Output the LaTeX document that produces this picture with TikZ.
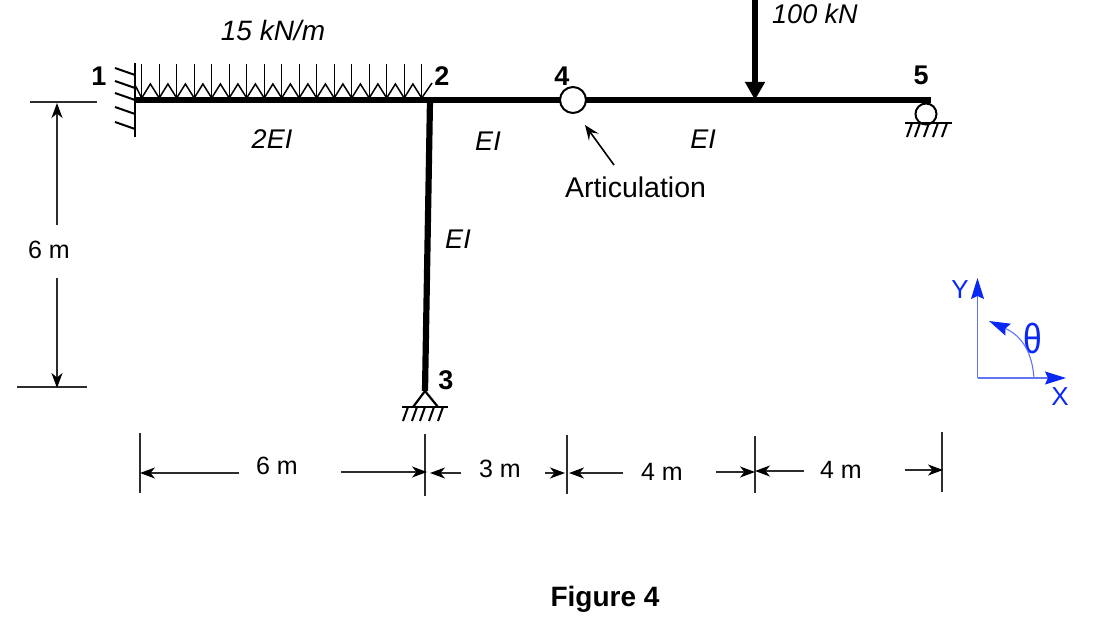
\documentclass[tikz,border=0pt]{standalone}
\usepackage{fontspec}
\setmainfont{Liberation Sans}
\usetikzlibrary{arrows.meta}
\definecolor{axisblue}{RGB}{10,40,245}
\definecolor{dimgrey}{RGB}{45,45,45}
\tikzset{
  member/.style={line width=6.2pt,black},
  hatch/.style={line width=2pt,black},
  dimline/.style={line width=1.3pt,dimgrey},
  dimarrow/.style={line width=1.3pt,dimgrey,-{Stealth[length=15pt,width=11pt,inset=4.5pt,black]}},
  lbl/.style={inner sep=0pt,font=\fontsize{25}{25}\selectfont},
  ital/.style={inner sep=0pt,font=\fontsize{27}{27}\selectfont\itshape},
  num/.style={inner sep=0pt,font=\fontsize{27}{27}\selectfont\bfseries},
  hinge/.style={circle,draw=black,fill=white,line width=2pt,inner sep=0pt},
  blue arrow/.style={line width=1.1pt,axisblue!65,-{Stealth[length=21pt,width=13pt,inset=3pt,axisblue]}},
  blue text/.style={inner sep=0pt,text=axisblue,font=\fontsize{26}{26}\selectfont},
}
\begin{document}
\begin{tikzpicture}[x=1pt,y=-1pt]
\useasboundingbox (0,0) rectangle (1120,628);
% key points
\coordinate (n1) at (135,100);
\coordinate (n2) at (430,100);
\coordinate (n3) at (425,391);
\coordinate (n5) at (931,100);
\coordinate (p) at (755,100);
\coordinate (ptop) at (755,0);
% uniform load
\foreach \i in {0,...,16}{
  \pgfmathsetmacro{\xx}{141.7+17.5*\i}
  \draw[line width=1.3pt] (\xx,64) -- (\xx,103);
}
\draw[line width=1.5pt] (135,85)
  -- (141.7,98)
  \foreach \i in {0,...,15}{ -- ({150.4+17.5*\i},84) -- ({159.2+17.5*\i},98) }
  -- (432,83);
% members
\draw[member,line cap=butt] (n1) -- (n5);
\draw[member] (n2) -- (n3);
% fixed support
\coordinate (f1) at (135,63);
\coordinate (f2) at (135,137);
\draw[line width=1.8pt] (f1) -- (f2);
\foreach \y in {75,88,100,114,129}{
  \draw[hatch] (135,\y) -- (115,\y-7);
}
% pin support at 3
\coordinate (t1) at (413,407);
\coordinate (t2) at (438,407);
\draw[line width=2.2pt,line join=miter] (t1) -- (n3) -- (t2);
\coordinate (g3a) at (402,407);
\coordinate (g3b) at (448,407);
\draw[line width=2pt] (g3a) -- (g3b);
\foreach \x in {408,417,425,434,443}{
  \draw[hatch] (\x,407) -- (\x-5,421);
}
% hinge 4
\node[hinge,minimum size=26pt] (h4) at (573,100) {};
% roller at 5
\node[hinge,minimum size=21pt] (h5) at (926,114) {};
\coordinate (g5a) at (905,123);
\coordinate (g5b) at (952,123);
\draw[line width=2pt] (g5a) -- (g5b);
\foreach \x in {912,920,929,938,947}{
  \draw[hatch] (\x,123) -- (\x-5,137);
}
% point load
\draw[line width=6pt,-{Triangle[length=18pt,width=19pt]}] (ptop) -- (p);
% articulation
\node[inner sep=0pt,font=\fontsize{28.5}{28.5}\selectfont] (art) at (635.5,187) {Articulation};
\coordinate (a1) at (614,165);
\coordinate (a2) at (585,125);
\draw[line width=1.6pt,-{Stealth[length=15pt,width=12pt,inset=6pt]}] (a1) -- (a2);
% texts
\node[ital,font=\fontsize{28}{28}\selectfont\itshape] (q) at (273,30) {15 kN/m};
\node[ital] (F) at (815,14) {100 kN};
\node[ital] (e1) at (272,139) {2EI};
\node[ital] (e2) at (488,141) {EI};
\node[ital] (e3) at (703,139) {EI};
\node[ital] (e4) at (458,239) {EI};
\node[num] (l1) at (99,76) {1};
\node[num] (l2) at (442,76) {2};
\node[num] (l3) at (446,380) {3};
\node[num] (l4) at (562,76) {4};
\node[num] (l5) at (921,75) {5};
\node[inner sep=0pt,font=\fontsize{28}{28}\selectfont\bfseries] (fig) at (605,599) {Figure 4};
% vertical dimension
\coordinate (v1a) at (30,102); \coordinate (v1b) at (97,102);
\coordinate (v2a) at (17,387); \coordinate (v2b) at (87,387);
\draw[dimline] (v1a) -- (v1b);
\draw[dimline] (v2a) -- (v2b);
\node[lbl] (d0) at (49,250) {6 m};
\coordinate (vt) at (57,103); \coordinate (vb) at (57,388);
\coordinate (vm1) at (57,225); \coordinate (vm2) at (57,278);
\draw[dimarrow] (vm1) -- (vt);
\draw[dimarrow] (vm2) -- (vb);
% horizontal dimensions
\foreach \n/\x/\a/\b in {A/140/433/493,B/425/434/496,C/567/435/494,D/755/436/493,E/942/432/492}{
  \coordinate (\n t) at (\x,\a);
  \coordinate (\n b) at (\x,\b);
  \draw[dimline] (\n t) -- (\n b);
}
\node[lbl] (d1) at (277,466) {6 m};
\node[lbl] (d2) at (500,469) {3 m};
\node[lbl] (d3) at (662,472) {4 m};
\node[lbl] (d4) at (841,470) {4 m};
\draw[dimarrow] (239,473) -- (140,473);
\draw[dimarrow] (341,472) -- (427,472);
\draw[dimarrow] (461,473) -- (430,473);
\draw[dimarrow] (545,473) -- (565,473);
\draw[dimarrow] (623,473) -- (569,473);
\draw[dimarrow] (716,472) -- (755,472);
\draw[dimarrow] (804,471) -- (755,471);
\draw[dimarrow] (905,470) -- (943,470);
% axes
\coordinate (o) at (977.5,378);
\coordinate (ay) at (977.5,278);
\coordinate (ax) at (1066,378);
\draw[blue arrow] (o) -- (ay);
\draw[blue arrow] (o) -- (ax);
\node[blue text] (ty) at (960,290) {Y};
\node[blue text] (tx) at (1060,397) {X};
\node[blue text,font=\fontsize{42}{42}\selectfont,xscale=.8] (th) at (1033,338) {θ};
\coordinate (ar) at (1034,378);
\coordinate (at) at (989,321);
\draw[blue arrow] (ar) .. controls (1032,352) and (1022,336) .. (at);
\end{tikzpicture}
\end{document}
